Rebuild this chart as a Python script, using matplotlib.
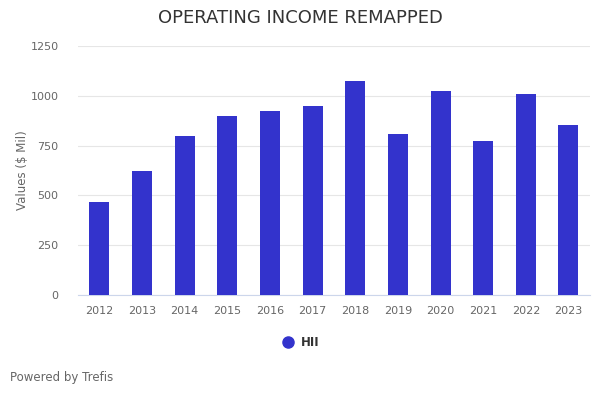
import matplotlib
matplotlib.use("Agg")
import matplotlib.pyplot as plt
import numpy as np

YEARS = ["2012", "2013", "2014", "2015", "2016", "2017",
         "2018", "2019", "2020", "2021", "2022", "2023"]
HII_VALUES = [467, 622, 798, 899, 924, 949, 1074, 808, 1024, 773, 1009, 853]
Y_TICKS = [0, 250, 500, 750, 1000, 1250]

BAR_COLOR = "#3333cc"
TEXT_COLOR = "#666666"


def chart():
    fig = plt.figure(figsize=(6, 4), dpi=100)
    ax = fig.add_axes([0.13, 0.2625, 0.853, 0.6225])

    x_pos = np.arange(len(YEARS))
    ax.bar(x_pos, HII_VALUES, width=0.47, color=BAR_COLOR, zorder=3)
    ax.set_xlim(-0.5, len(YEARS) - 0.5)
    ax.set_ylim(0, 1250)
    ax.set_xticks(x_pos)
    ax.set_xticklabels(YEARS)
    ax.set_yticks(Y_TICKS)
    ax.set_yticklabels([str(t) for t in Y_TICKS])

    ax.grid(axis="y", color="#e6e6e6", linewidth=0.8, zorder=0)
    for side in ["top", "right", "left"]:
        ax.spines[side].set_visible(False)
    ax.spines["bottom"].set_color("#ccd6eb")
    ax.spines["bottom"].set_linewidth(0.8)
    ax.tick_params(axis="both", length=0, labelsize=8, labelcolor=TEXT_COLOR)
    ax.tick_params(axis="x", pad=8)
    ax.tick_params(axis="y", pad=14)

    ax.set_ylabel("Values (\\$ Mil)", fontsize=8.5, color=TEXT_COLOR, labelpad=1)

    fig.text(0.5, 0.955, "OPERATING INCOME REMAPPED", ha="center", va="center",
             fontsize=13, color="#333333")

    fig.lines.append(plt.Line2D([0.48], [1 - 342 / 400], marker="o", markersize=8,
                                color=BAR_COLOR, transform=fig.transFigure,
                                linestyle="none"))
    fig.text(0.502, 1 - 343 / 400, "HII", ha="left", va="center", fontsize=8.5,
             fontweight="bold", color="#333333")

    fig.text(10 / 600, 1 - 378 / 400, "Powered by Trefis", ha="left", va="center",
             fontsize=8.5, color=TEXT_COLOR)

    fig.savefig("out.png", dpi=100)


def main():
    chart()


if __name__ == "__main__":
    main()
